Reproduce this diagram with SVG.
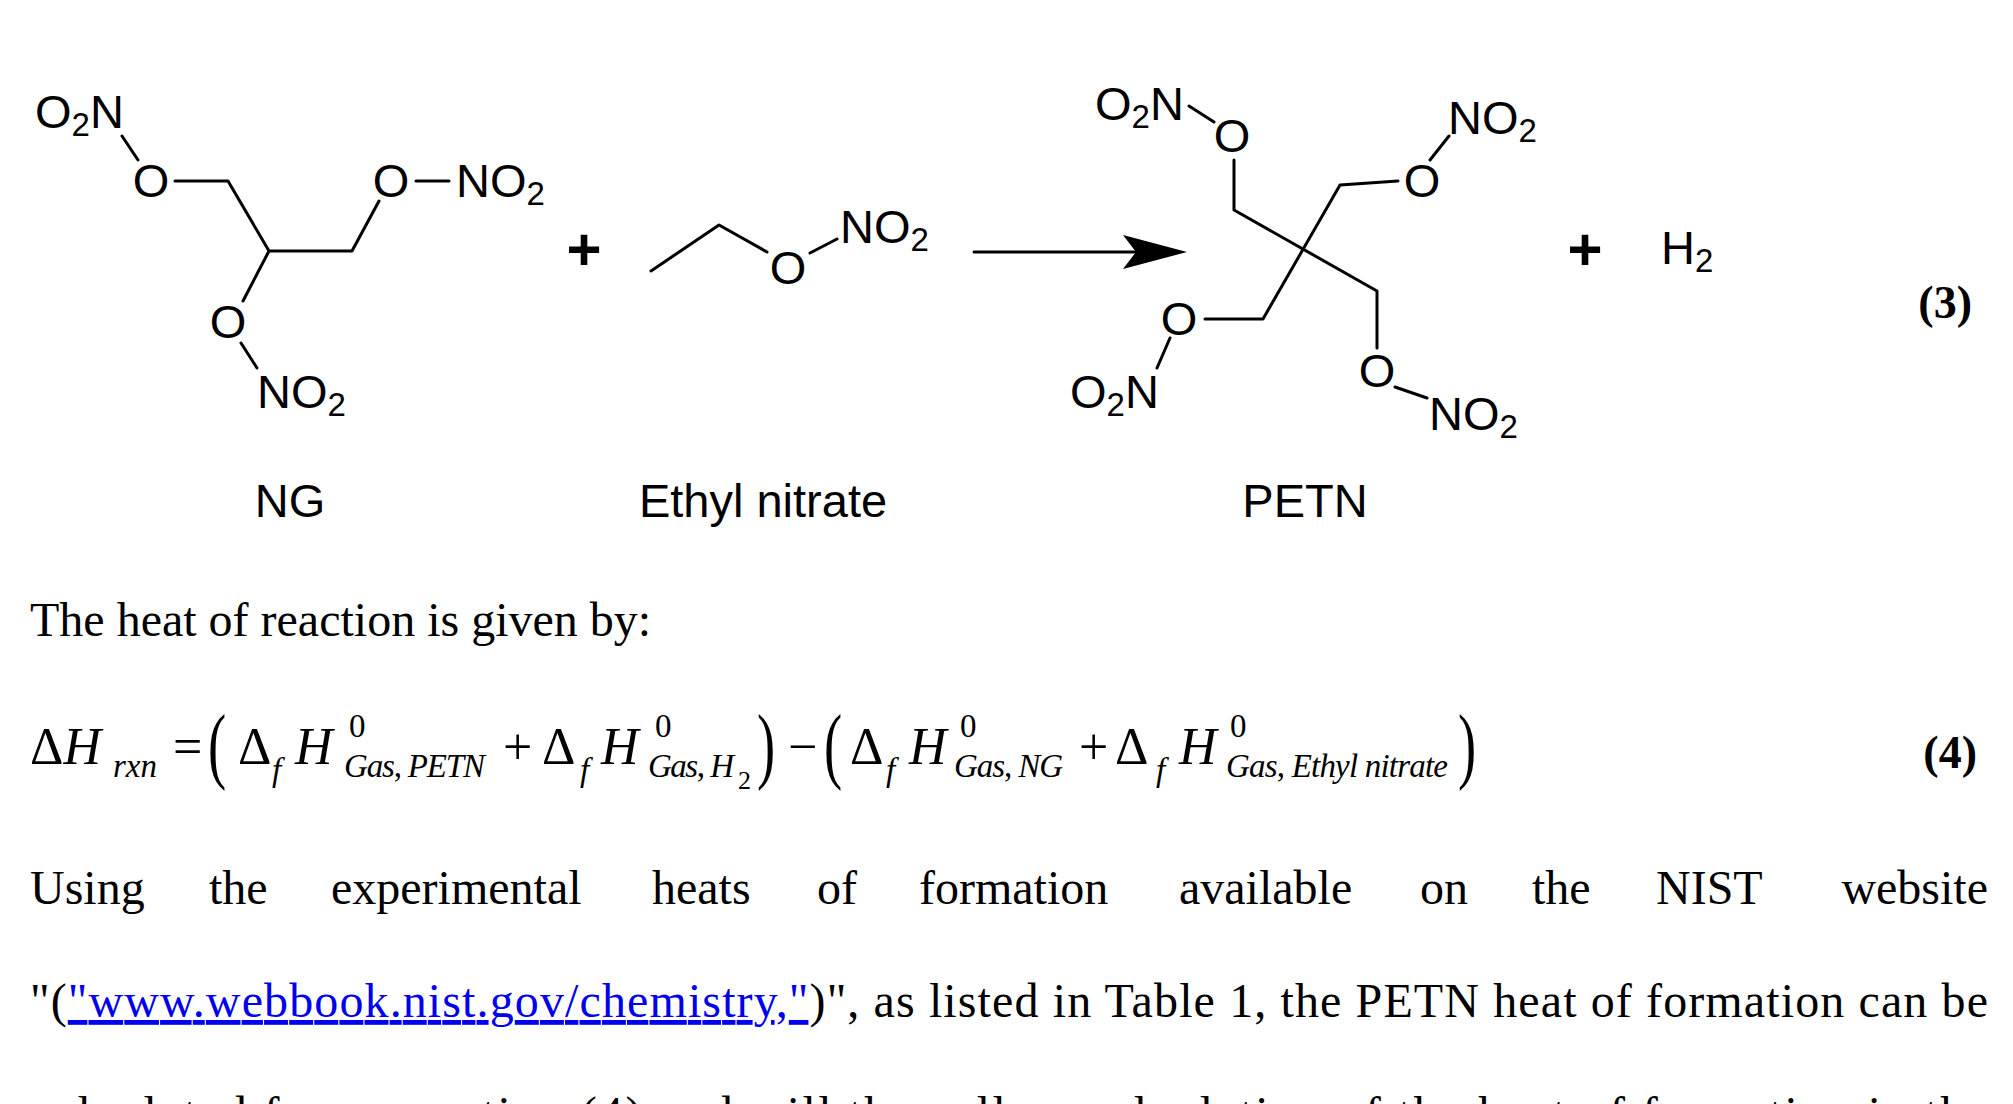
<svg xmlns="http://www.w3.org/2000/svg" width="2013" height="1104" viewBox="0 0 2013 1104">
<style>
.b{stroke:#000;stroke-width:3;fill:none;stroke-linecap:round;stroke-linejoin:round}
.c{font-family:"Liberation Sans",Arial,sans-serif;font-size:47px;fill:#000}
.s{font-size:33px}
.t{font-family:"Liberation Serif","Times New Roman",serif;font-size:48px;fill:#000}
.i{font-style:italic}
.e{font-family:"Liberation Serif","Times New Roman",serif;fill:#000}
.bd{font-weight:bold}
</style>
<rect width="2013" height="1104" fill="#fff"/>
<g id="NG">
<path class="b" d="M122,136L138,160M175,181L228,181L269,251L352,251L379,201M416,181L449,181M269,251L243,301M241,343L257,368"/>
<text class="c" x="35" y="128">O<tspan class="s" dy="8">2</tspan><tspan dy="-8">N</tspan></text>
<text class="c" x="151" y="197" text-anchor="middle">O</text>
<text class="c" x="391" y="197" text-anchor="middle">O</text>
<text class="c" x="456" y="197">NO<tspan class="s" dy="8">2</tspan></text>
<text class="c" x="228" y="338" text-anchor="middle">O</text>
<text class="c" x="257" y="408">NO<tspan class="s" dy="8">2</tspan></text>
<text class="c" x="290" y="517" text-anchor="middle">NG</text>
</g>
<text class="c" x="584" y="270" text-anchor="middle" style="font-size:60px;font-weight:bold">+</text>
<g id="ethyl">
<path class="b" d="M651,271L719,225L767,252M810,253L837,239"/>
<text class="c" x="788" y="284" text-anchor="middle">O</text>
<text class="c" x="840" y="243">NO<tspan class="s" dy="8">2</tspan></text>
<text class="c" x="763" y="517" text-anchor="middle">Ethyl nitrate</text>
</g>
<g id="connectors">
<path class="b" d="M974,252L1140,252"/>
<polygon points="1123,235 1187,252 1123,269 1136,252" fill="#000"/>
</g>
<g id="PETN">
<path class="b" d="M1234,160L1234,210L1377,291L1377,348M1189,106L1214,122M1398,181L1340,185L1263,319L1205,319M1430,160L1449,136M1170,338L1157,368M1395,387L1427,398"/>
<text class="c" x="1095" y="120">O<tspan class="s" dy="8">2</tspan><tspan dy="-8">N</tspan></text>
<text class="c" x="1232" y="152" text-anchor="middle">O</text>
<text class="c" x="1422" y="197" text-anchor="middle">O</text>
<text class="c" x="1448" y="134">NO<tspan class="s" dy="8">2</tspan></text>
<text class="c" x="1179" y="335" text-anchor="middle">O</text>
<text class="c" x="1070" y="408">O<tspan class="s" dy="8">2</tspan><tspan dy="-8">N</tspan></text>
<text class="c" x="1377" y="387" text-anchor="middle">O</text>
<text class="c" x="1429" y="430">NO<tspan class="s" dy="8">2</tspan></text>
<text class="c" x="1305" y="517" text-anchor="middle">PETN</text>
</g>
<text class="c" x="1585" y="270" text-anchor="middle" style="font-size:60px;font-weight:bold">+</text>
<g id="H2"><text class="c" x="1661" y="264">H<tspan class="s" dy="8">2</tspan></text></g>
<text class="e bd" x="1972" y="318" text-anchor="end" font-size="46">(3)</text>
<text class="t" x="30" y="636">The heat of reaction is given by:</text>
<g id="eq4" class="e">
<text x="30" y="764" font-size="52">Δ<tspan class="i">H</tspan></text>
<text x="113" y="777" font-size="33" class="i">rxn</text>
<text x="173" y="764" font-size="52">=</text>
<text transform="translate(208,773) scale(0.65,1)" font-size="84">(</text>
<text x="238" y="764" font-size="52">Δ</text>
<text x="272" y="781" font-size="33" class="i">f</text>
<text x="295" y="764" font-size="52" class="i">H</text>
<text x="349" y="737" font-size="33">0</text>
<text x="344" y="777" font-size="33" class="i" textLength="141">Gas<tspan font-style="normal">, </tspan>PETN</text>
<text x="503" y="764" font-size="52">+</text>
<text x="542" y="764" font-size="52">Δ</text>
<text x="580" y="781" font-size="33" class="i">f</text>
<text x="601" y="764" font-size="52" class="i">H</text>
<text x="655" y="737" font-size="33">0</text>
<text x="648" y="777" font-size="33" class="i" textLength="86">Gas<tspan font-style="normal">, </tspan>H</text>
<text x="738" y="789" font-size="26">2</text>
<text transform="translate(757,773) scale(0.65,1)" font-size="84">)</text>
<text x="788" y="764" font-size="52">−</text>
<text transform="translate(824,773) scale(0.65,1)" font-size="84">(</text>
<text x="850" y="764" font-size="52">Δ</text>
<text x="886" y="781" font-size="33" class="i">f</text>
<text x="909" y="764" font-size="52" class="i">H</text>
<text x="960" y="737" font-size="33">0</text>
<text x="954" y="777" font-size="33" class="i" textLength="109">Gas<tspan font-style="normal">, </tspan>NG</text>
<text x="1079" y="764" font-size="52">+</text>
<text x="1115" y="764" font-size="52">Δ</text>
<text x="1156" y="781" font-size="33" class="i">f</text>
<text x="1179" y="764" font-size="52" class="i">H</text>
<text x="1230" y="737" font-size="33">0</text>
<text x="1226" y="777" font-size="33" class="i" textLength="222">Gas<tspan font-style="normal">, </tspan>Ethyl nitrate</text>
<text transform="translate(1458,773) scale(0.65,1)" font-size="84">)</text>
</g>
<text class="e bd" x="1977" y="768" text-anchor="end" font-size="46">(4)</text>
<g class="t">
<text x="30" y="904">Using</text><text x="209" y="904">the</text><text x="331" y="904">experimental</text><text x="652" y="904">heats</text><text x="817" y="904">of</text><text x="919" y="904">formation</text><text x="1179" y="904">available</text><text x="1420" y="904">on</text><text x="1532" y="904">the</text><text x="1656" y="904">NIST</text><text x="1988" y="904" text-anchor="end">website</text>
<text x="30" y="1017" textLength="1958" lengthAdjust="spacing">"(<tspan fill="#0000ee" text-decoration="underline">"www.webbook.nist.gov/chemistry,"</tspan>)", as listed in Table 1, the PETN heat of formation can be</text>
<text x="30" y="1130" textLength="1958" lengthAdjust="spacing">calculated from equation (4) and will thus allow calculation of the heat of formation in the</text>
</g>
</svg>
